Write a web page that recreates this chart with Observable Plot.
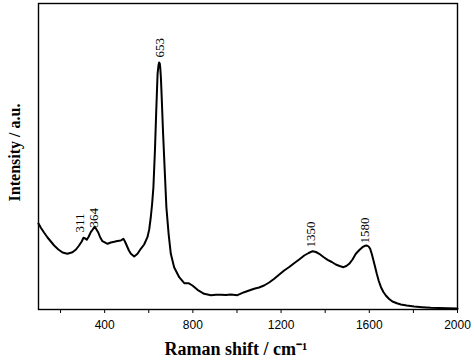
<!DOCTYPE html>
<html><head><meta charset="utf-8">
<script src="https://cdn.jsdelivr.net/npm/d3@7"></script>
<script src="https://cdn.jsdelivr.net/npm/@observablehq/plot@0.6"></script>
<style>body{margin:0;background:#fff}</style>
</head><body><div id="chart"></div>
<script>
const shift = [100,110,125,141,156,171,190,209,231,254,270,284,296,304,312,319,328,337,346,355,363,371,380,390,413,428,443,458,473,485,492,500,510,519,534,549,564,579,594,602,609,615,621,628,634,640,644,647,650,652,655,658,665,673,680,690,700,715,738,761,780,798,821,851,882,905,927,950,972,1002,1033,1055,1078,1100,1123,1146,1169,1192,1214,1237,1259,1282,1305,1325,1343,1358,1373,1392,1411,1430,1448,1465,1483,1496,1509,1524,1539,1555,1569,1580,1589,1597,1604,1612,1619,1627,1634,1643,1653,1664,1675,1690,1705,1725,1743,1770,1804,1840,1879,1915,1955,2000];
const intensity = [86,82,77,72,68,64,60,57,55.7,57.3,60,64,68,71.7,71,69.7,73,77.3,80,83,80,77,72,68.3,65.7,67,67.7,68.5,69,70.7,68,64,59,55.7,53,55.7,60.7,65,72.3,80,92,105,122,159,199,235.7,244,247,246,242,232,216,176,136,102,75.7,55.7,42.3,32.3,26.3,26.3,24,19.7,15.7,14.3,14.7,14.7,14.5,15,14.3,17.3,19,20.7,22,24,27,30.7,35,39,42.5,46.3,50,54,56.5,58.3,57.5,55.7,52.5,49.7,47.5,45,43.5,42.3,43.5,45.7,50,55.7,59.5,62.3,63.7,64,63,60.7,55,49,42,35.7,28.5,22.3,17.5,14,10.5,8,6.2,5,4,3,2.3,1.7,1.5,1.3,1];
const peakLabels = ["311","364","653","1350","1580"];
const peakX = [287,351,651,1335,1580];
const peakY = [77,82,252,62,66];
const xTicks = [200,400,600,800,1000,1200,1400,1600,1800,2000];
const xTickLabels = ["","400","","800","","1200","","1600","","2000"];
const xTitle = "Raman shift / cm\u207B\u00B9";
const yTitle = "Intensity / a.u.";

const spectrum = shift.map((x, i) => ({x, y: intensity[i]}));
const peaks = peakLabels.map((t, i) => ({t, x: peakX[i], y: peakY[i]}));

const chart = Plot.plot({
  width: 474,
  height: 364,
  marginLeft: 38,
  marginRight: 17,
  marginTop: 3,
  marginBottom: 55,
  style: {background: "#fff", overflow: "visible"},
  x: {domain: [100, 2000]},
  y: {domain: [0, 306], axis: null},
  marks: [
    Plot.line(spectrum, {x: "x", y: "y", stroke: "#000", strokeWidth: 2, strokeLinejoin: "round"}),
    Plot.text(peaks, {x: "x", y: "y", text: "t", rotate: -90, textAnchor: "start",
      fontFamily: "Liberation Serif", fontSize: 13, fill: "#000"}),
    Plot.frame({stroke: "#000", strokeWidth: 1.4}),
    Plot.axisX({ticks: xTicks, tickFormat: (d) => xTickLabels[xTicks.indexOf(d)], tickSize: 4,
      tickPadding: 7, label: null, fontSize: 12, fontFamily: "Liberation Sans", stroke: "#000", color: "#000"}),
    Plot.text([xTitle], {frameAnchor: "bottom", textAnchor: "middle", dy: 40, dx: -12, lineAnchor: "middle",
      fontFamily: "Liberation Serif", fontWeight: "bold", fontSize: 18, fill: "#000"}),
    Plot.text([yTitle], {frameAnchor: "left", textAnchor: "middle", lineAnchor: "middle", rotate: -90, dx: -24, dy: -4,
      fontFamily: "Liberation Serif", fontWeight: "bold", fontSize: 16, fill: "#000"})
  ]
});
document.getElementById("chart").appendChild(chart);
</script>
</body></html>
